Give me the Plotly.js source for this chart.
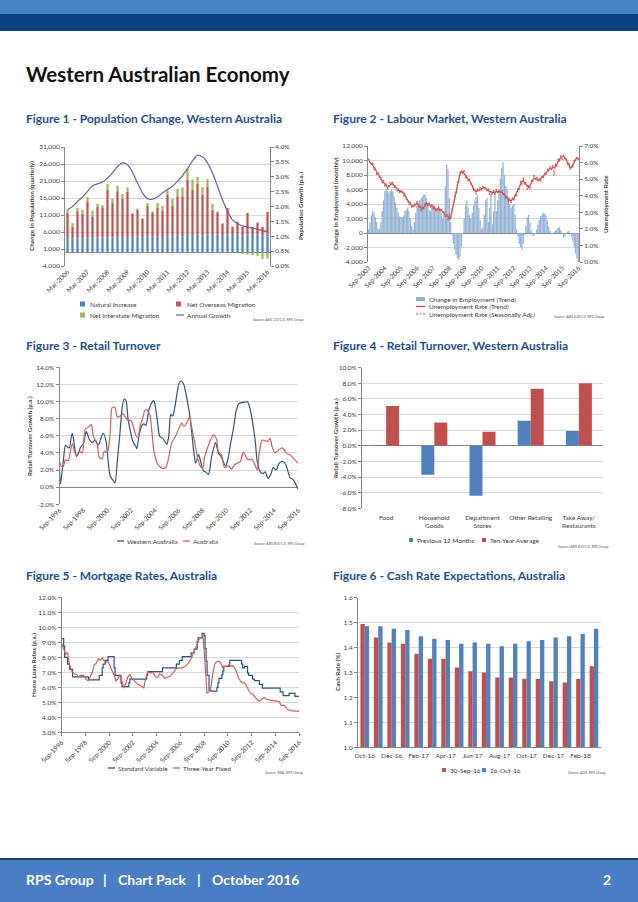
<!DOCTYPE html>
<html><head><meta charset="utf-8">
<script src="https://cdn.plot.ly/plotly-3.0.1.min.js"></script>
<style>html,body{margin:0;padding:0;background:#fff;}#chart{width:638px;height:902px;}</style>
</head><body><div id="chart"></div><script>
// ---------------- DATA ----------------
// Figure 1 - Population change, WA (quarterly)
const popQuarters = ['Mar-2006','Jun-2006','Sep-2006','Dec-2006','Mar-2007','Jun-2007','Sep-2007','Dec-2007',
 'Mar-2008','Jun-2008','Sep-2008','Dec-2008','Mar-2009','Jun-2009','Sep-2009','Dec-2009',
 'Mar-2010','Jun-2010','Sep-2010','Dec-2010','Mar-2011','Jun-2011','Sep-2011','Dec-2011',
 'Mar-2012','Jun-2012','Sep-2012','Dec-2012','Mar-2013','Jun-2013','Sep-2013','Dec-2013',
 'Mar-2014','Jun-2014','Sep-2014','Dec-2014','Mar-2015','Jun-2015','Sep-2015','Dec-2015','Mar-2016'];
const popTickLabels = ['Mar-2006','Mar-2007','Mar-2008','Mar-2009','Mar-2010','Mar-2011','Mar-2012','Mar-2013','Mar-2014','Mar-2015','Mar-2016'];
const naturalIncrease = [4200,4100,4300,4200,4400,4300,4400,4300,4500,4400,4600,4500,4600,4500,4700,4500,
 4700,4600,4700,4500,4900,4700,4900,4700,5100,4900,5200,5000,5300,5100,5300,5000,5300,5100,5300,5000,5300,5100,5200,4900,5200];
const netOverseas = [7400,3400,7800,7200,10400,6300,9100,8950,14000,10100,13400,11300,13250,6900,7850,5400,
 9000,7000,8550,7800,12000,9000,11600,11800,16300,13500,15000,12000,13900,7450,6500,3400,7750,2400,3700,2500,6300,2400,3600,2600,6700];
const netInterstate = [800,1100,950,1100,1500,1700,800,650,1700,1300,1600,1400,1250,200,350,200,
 800,500,1250,1400,1350,2100,2200,2600,3200,3000,2000,2200,2400,1750,300,200,50,100,-300,-500,-600,-800,-1000,-2000,-1800];
const annualGrowth = [1.89,2.0,2.17,2.32,2.51,2.70,2.76,2.82,2.96,3.13,3.34,3.47,3.40,3.15,2.79,2.46,
 2.26,2.25,2.32,2.46,2.57,2.68,2.85,3.04,3.27,3.53,3.72,3.67,3.47,3.13,2.68,2.23,1.84,1.55,1.42,1.35,1.31,1.27,1.24,1.19,1.16];
const popYTickVals = [-4000,1000,6000,11000,16000,21000,26000,31000];
const popYTickText = ['-4,000','1,000','6,000','11,000','16,000','21,000','26,000','31,000'];

// Figure 2 - Labour market, WA (monthly, Sep-2003 .. Sep-2016)
const empStart = {year: 2003, month: 9};
const empChange = [500,1500,2500,3000,
 2800,2200,1500,700,500,1500,3000,4500,5800,6000,5800,5600,
 5800,6000,5700,5000,4200,3500,2800,2300,2200,2200,2400,3000,
 3200,3500,3000,2000,1000,500,1500,2800,3800,4200,4500,4800,
 5000,5300,5300,4800,4000,3200,3000,3500,4000,3500,3000,3200,
 3800,3500,2800,2000,3000,6500,9500,8800,4800,1500,-300,-1500,
 -2300,-3000,-3500,-3700,-3300,-2000,-200,2000,3800,4500,3500,2500,
 2000,2800,3800,4500,5000,5200,3500,1800,500,800,2500,4500,
 4800,1500,3500,5400,1200,3000,5800,3000,4500,6000,7500,9000,
 9800,8000,6500,6000,5000,4000,3500,3800,4000,2500,500,-500,
 -1500,-2000,-2300,-1500,-300,1000,2200,2500,1500,300,-300,-400,
 -100,500,1200,1800,2300,2600,2800,2700,2400,1700,900,300,
 0,0,100,300,500,700,800,400,0,-700,-500,-100,
 200,300,0,-500,-1200,-2000,-2800,-3500,-4000];
const unempTrend = [6.1,6.05,5.95,5.85,
 5.7,5.55,5.4,5.3,5.2,5.05,4.9,4.8,4.7,4.6,4.5,4.55,
 4.65,4.75,4.7,4.6,4.5,4.4,4.35,4.3,4.25,4.2,4.15,4.0,
 3.85,3.7,3.6,3.5,3.4,3.35,3.4,3.5,3.55,3.45,3.35,3.25,
 3.2,3.3,3.45,3.55,3.5,3.45,3.4,3.35,3.3,3.25,3.2,3.15,
 3.2,3.15,3.1,3.05,2.95,2.85,2.85,2.75,2.65,2.7,3.1,3.5,
 3.9,4.3,4.6,5.0,5.3,5.45,5.45,5.35,5.2,5.1,5.0,4.9,
 4.8,4.6,4.4,4.3,4.25,4.3,4.35,4.4,4.4,4.45,4.5,4.45,
 4.4,4.3,4.25,4.2,4.2,4.2,4.2,4.25,4.25,4.25,4.25,4.2,
 4.15,4.05,3.95,3.85,3.75,3.7,3.7,3.75,3.85,4.0,4.2,4.35,
 4.5,4.7,4.85,4.9,4.8,4.7,4.55,4.5,4.6,4.8,4.95,5.05,
 5.05,5.0,4.95,4.95,5.0,5.1,5.2,5.3,5.4,5.5,5.6,5.65,
 5.65,5.7,5.7,5.75,5.9,6.1,6.2,6.3,6.35,6.4,6.3,6.15,
 6.0,5.85,5.7,5.7,5.85,6.05,6.2,6.25,6.25];
const unempSA = [6.2,6.0,5.9,5.95,
 5.6,5.6,5.3,5.35,5.1,5.1,4.8,4.9,4.6,4.7,4.4,4.6,
 4.8,4.7,4.8,4.5,4.6,4.3,4.4,4.2,4.3,4.25,4.0,4.1,
 3.8,3.7,3.5,3.6,3.3,3.4,3.5,3.45,3.65,3.35,3.3,3.1,
 3.3,3.2,3.5,3.6,3.4,3.55,3.3,3.45,3.2,3.35,3.1,3.2,
 3.3,3.1,3.15,3.0,3.0,2.75,2.8,2.55,2.9,2.6,3.2,3.5,
 4.0,4.2,4.8,4.9,5.4,5.5,5.35,5.5,5.1,5.15,4.9,5.0,
 4.7,4.6,4.35,4.35,4.1,4.4,4.3,4.5,4.35,4.55,4.45,4.5,
 4.3,4.4,4.1,4.25,4.1,4.3,4.1,4.35,4.2,4.3,4.2,4.3,
 4.1,4.1,3.85,3.9,3.65,3.8,3.6,3.85,3.75,4.05,4.0,4.4,
 4.4,4.85,4.7,5.05,4.7,4.8,4.4,4.6,4.45,4.9,4.85,5.2,
 5.0,5.1,4.9,5.0,4.9,5.15,5.1,5.35,5.3,5.6,5.5,5.75,
 5.6,5.8,5.25,5.9,5.8,6.2,6.1,6.4,6.2,6.45,6.25,6.2,
 5.9,5.95,5.6,5.75,5.8,6.1,6.15,6.3,6.2];
const empTickVals = ['2003-09-01','2004-09-01','2005-09-01','2006-09-01','2007-09-01','2008-09-01','2009-09-01',
 '2010-09-01','2011-09-01','2012-09-01','2013-09-01','2014-09-01','2015-09-01','2016-09-01'];
const empTickText = ['Sep-2003','Sep-2004','Sep-2005','Sep-2006','Sep-2007','Sep-2008','Sep-2009',
 'Sep-2010','Sep-2011','Sep-2012','Sep-2013','Sep-2014','Sep-2015','Sep-2016'];
const empYTickVals = [-4000,-2000,0,2000,4000,6000,8000,10000,12000];
const empYTickText = ['-4,000','-2,000','0','2,000','4,000','6,000','8,000','10,000','12,000'];

// Figure 3 - Retail turnover growth (% p.a.)
const waDates = ['1996-09','1996-10','1997-01','1997-03','1997-05','1997-07','1997-09','1997-10','1997-12','1998-02','1998-04','1998-06','1998-09','1998-12',
 '1999-03','1999-06','1999-09','1999-12','2000-03','2000-05','2000-08','2000-10','2000-12','2001-03','2001-05','2001-07','2001-10','2001-12',
 '2002-02','2002-04','2002-06','2002-09','2002-11','2003-02','2003-03','2003-05','2003-08','2003-10','2003-12','2004-03','2004-06','2004-08',
 '2004-11','2005-02','2005-05','2005-09','2005-11','2006-01','2006-03','2006-06','2006-09','2006-11','2007-02','2007-05','2007-08','2007-10',
 '2007-12','2008-02','2008-05','2008-07','2008-10','2008-12','2009-03','2009-06','2009-10','2010-01','2010-04','2010-08','2010-10','2011-01',
 '2011-04','2011-07','2011-10','2012-02','2012-06','2012-08','2012-11','2013-02','2013-04','2013-07','2013-10','2013-12','2014-03','2014-06',
 '2014-08','2014-11','2015-02','2015-05','2015-08','2015-11','2016-01','2016-04','2016-06','2016-09'];
const waRetail = [2.0,0.4,3.2,4.9,4.7,4.6,6.0,6.3,4.9,3.6,3.9,4.6,5.1,6.5,
 5.6,5.2,5.5,4.9,5.8,6.3,5.3,3.0,1.3,0.8,0.5,2.8,6.5,9.2,
 10.3,10.1,8.0,6.2,5.3,4.7,4.5,6.0,7.2,7.4,7.2,9.0,9.9,10.1,
 8.2,5.9,5.7,5.0,6.0,8.5,8.3,10.0,12.0,12.4,12.0,10.5,8.5,6.5,
 4.3,2.8,3.8,3.0,1.9,1.8,1.5,3.5,5.2,4.0,3.5,2.5,3.0,5.0,
 6.8,9.0,9.8,9.9,10.0,9.5,7.8,5.3,3.0,1.8,1.6,1.8,1.0,1.6,
 2.3,2.0,2.8,3.0,2.8,1.8,1.1,0.9,0.5,-0.2];
const ausDates = ['1996-09','1996-11','1997-01','1997-03','1997-06','1997-08','1997-10','1997-12','1998-02','1998-05','1998-08','1998-11',
 '1999-02','1999-05','1999-07','1999-11','2000-01','2000-04','2000-06','2000-09','2000-12','2001-02','2001-05','2001-07','2001-10',
 '2002-01','2002-03','2002-06','2002-09','2002-11','2003-02','2003-04','2003-06','2003-09','2003-11','2004-01','2004-04','2004-06',
 '2004-08','2004-11','2005-01','2005-05','2005-08','2005-11','2006-02','2006-06','2006-09','2006-12','2007-02','2007-05','2007-08',
 '2007-10','2008-01','2008-04','2008-07','2008-09','2008-11','2009-02','2009-05','2009-08','2009-11','2010-01','2010-04','2010-07',
 '2010-11','2011-02','2011-05','2011-08','2011-11','2012-02','2012-05','2012-07','2012-10','2013-01','2013-04','2013-06','2013-09',
 '2013-12','2014-03','2014-05','2014-07','2014-10','2015-01','2015-05','2015-07','2015-10','2016-01','2016-05','2016-09'];
const ausRetail = [3.0,2.4,2.5,3.2,3.1,4.2,5.1,4.2,3.7,4.2,4.0,6.8,
 7.0,7.3,6.0,5.0,3.5,3.3,4.2,4.0,6.2,9.3,9.3,8.2,8.3,
 8.6,8.2,7.8,7.8,7.2,6.0,5.8,7.0,8.2,9.0,9.0,8.4,6.5,
 4.2,2.9,2.5,2.2,2.3,3.5,5.2,6.0,6.8,7.5,7.1,7.5,8.2,
 7.0,5.3,3.4,2.4,2.2,3.5,4.6,5.5,6.1,5.6,4.1,3.8,2.3,
 2.5,2.1,2.6,2.8,3.0,4.1,3.5,3.2,3.3,2.8,2.0,4.0,5.5,
 5.4,5.4,5.7,4.7,4.0,4.3,4.6,4.4,3.9,3.8,3.3,2.8];
const bienTickVals = ['1996-09-01','1998-09-01','2000-09-01','2002-09-01','2004-09-01','2006-09-01','2008-09-01','2010-09-01','2012-09-01','2014-09-01','2016-09-01'];
const bienTickText = ['Sep-1996','Sep-1998','Sep-2000','Sep-2002','Sep-2004','Sep-2006','Sep-2008','Sep-2010','Sep-2012','Sep-2014','Sep-2016'];
const retailYTickVals = [-2,0,2,4,6,8,10,12,14];
const retailYTickText = ['-2.0%','0.0%','2.0%','4.0%','6.0%','8.0%','10.0%','12.0%','14.0%'];

// Figure 4 - Retail turnover by category, WA
const retailCats = ['Food','Household<br>Goods','Department<br>Stores','Other Retailing','Take Away/<br>Restaurants'];
const prev12Months = [0.1,-3.7,-6.4,3.2,1.9];
const tenYearAvg = [5.1,3.0,1.8,7.3,8.0];
const catYTickVals = [-8,-6,-4,-2,0,2,4,6,8,10];
const catYTickText = ['-8.0%','-6.0%','-4.0%','-2.0%','0.0%','2.0%','4.0%','6.0%','8.0%','10.0%'];

// Figure 5 - Mortgage rates, Australia
const svDates = ['1996-09','1996-11','1996-12','1997-03','1997-05','1997-08','1998-12','1999-11','2000-02','2000-03','2000-05','2000-08',
 '2001-02','2001-03','2001-09','2001-10','2002-05','2002-06','2003-11','2003-12','2005-03','2006-05','2006-08','2006-11','2007-08',
 '2007-11','2008-02','2008-03','2008-07','2008-09','2008-10','2008-11','2008-12','2009-02','2009-04','2009-10','2009-11','2009-12',
 '2010-03','2010-04','2010-05','2010-11','2011-11','2011-12','2012-02','2012-05','2012-06','2012-10','2012-12','2013-05','2013-08',
 '2015-02','2015-05','2015-11','2016-05','2016-09'];
const standardVariable = [9.25,8.75,8.0,7.55,7.2,6.7,6.5,6.8,7.3,7.55,7.8,8.05,
 7.3,6.8,6.3,6.05,6.3,6.55,6.8,7.05,7.3,7.55,7.8,8.05,8.3,
 8.55,9.05,9.3,9.6,9.45,8.6,7.75,6.8,5.8,5.75,6.0,6.3,6.6,
 6.85,7.1,7.4,7.8,7.55,7.3,7.4,6.95,6.8,6.55,6.45,6.2,5.95,
 5.7,5.45,5.6,5.4,5.4];
const fxDates = ['1996-09','1996-11','1997-01','1997-03','1997-05','1997-07','1997-10','1997-12','1998-02','1998-04','1998-07','1998-10',
 '1998-12','1999-02','1999-04','1999-06','1999-08','1999-10','1999-12','2000-02','2000-05','2000-08','2000-11','2001-02','2001-04',
 '2001-06','2001-08','2001-10','2001-12','2002-02','2002-04','2002-06','2002-08','2002-11','2003-02','2003-05','2003-08','2003-10',
 '2003-12','2004-03','2004-05','2004-08','2004-10','2004-12','2005-02','2005-05','2005-08','2005-11','2006-02','2006-05','2006-08',
 '2006-11','2007-02','2007-05','2007-08','2007-11','2008-02','2008-04','2008-06','2008-08','2008-09','2008-10','2008-11','2008-12',
 '2009-02','2009-04','2009-06','2009-08','2009-10','2009-12','2010-02','2010-04','2010-06','2010-08','2010-10','2010-12','2011-02',
 '2011-04','2011-06','2011-08','2011-10','2011-12','2012-02','2012-04','2012-06','2012-08','2012-10','2012-12','2013-02','2013-04',
 '2013-06','2013-08','2013-10','2013-12','2014-04','2014-07','2014-10','2015-01','2015-03','2015-06','2015-08','2015-10','2016-01',
 '2016-05','2016-09'];
const threeYearFixed = [8.9,8.5,8.2,8.3,7.5,7.1,6.9,6.85,6.7,6.8,6.8,6.5,
 6.45,6.7,7.0,7.5,7.6,7.9,7.8,7.95,7.7,7.7,7.3,6.8,6.4,
 6.6,6.8,6.4,5.95,6.3,6.7,6.85,6.6,6.4,6.2,6.1,5.95,6.6,
 7.05,6.95,7.0,6.7,6.65,6.9,6.85,6.6,6.65,6.75,7.0,7.25,7.3,
 7.3,7.4,7.6,7.9,8.4,8.9,9.2,9.3,9.4,8.5,7.3,6.3,5.6,
 5.7,6.0,7.0,7.6,7.7,7.75,7.6,7.3,7.4,7.4,7.5,7.4,7.45,
 7.3,7.0,6.6,6.4,6.3,6.3,6.1,5.8,5.6,5.55,5.4,5.25,5.1,
 5.1,5.25,5.3,5.2,5.15,5.1,5.05,5.05,4.8,4.8,4.65,4.5,4.45,
 4.45,4.4];
const mortYTickVals = [3,4,5,6,7,8,9,10,11,12];
const mortYTickText = ['3.0%','4.0%','5.0%','6.0%','7.0%','8.0%','9.0%','10.0%','11.0%','12.0%'];

// Figure 6 - Cash rate expectations
const cashMonths = ['Oct-16','Nov-16','Dec-16','Jan-17','Feb-17','Mar-17','Apr-17','May-17','Jun-17','Jul-17','Aug-17','Sep-17',
 'Oct-17','Nov-17','Dec-17','Jan-18','Feb-18','Mar-18'];
const cashTickLabels = ['Oct-16','Dec-16','Feb-17','Apr-17','Jun-17','Aug-17','Oct-17','Dec-17','Feb-18'];
const cash30Sep16 = [1.495,1.44,1.42,1.415,1.375,1.355,1.355,1.32,1.305,1.30,1.28,1.28,1.275,1.275,1.265,1.26,1.275,1.325];
const cash26Oct16 = [1.485,1.485,1.475,1.47,1.445,1.435,1.43,1.415,1.42,1.415,1.405,1.415,1.425,1.43,1.44,1.445,1.455,1.475];

// ---------------- HELPERS ----------------
const W = 638, H = 902;
const fx = v => v / W;
const fy = v => 1 - v / H;
const FONT = 'Lato, "Open Sans", sans-serif';
const TS = 6.5;
const TICK = {family: FONT, size: TS, color: '#404040'};
const AXC = '#868686', GRID = '#d9d9d9';
const BLUE = '#4f81bd', RED = '#c0504d', GREEN = '#9bbb59', PURPLE = '#7464a8';
const LIGHTBLUE = '#95b3d7', NAVY = '#2b5283', ROSE = '#d0605e';
const TITLEBLUE = '#1f4e8d';

function yAx(extra) {
  return Object.assign({automargin:false, showline:true, linecolor:AXC, linewidth:1, ticks:'outside', ticklen:3,
    tickcolor:AXC, tickwidth:1, gridcolor:GRID, gridwidth:1, zeroline:false, tickfont:TICK, fixedrange:true}, extra);
}
function xAx(extra) {
  return Object.assign({automargin:false, showline:false, ticks:'', showgrid:false, zeroline:false, tickfont:TICK, fixedrange:true}, extra);
}
const shapes = [], annotations = [];
function rectPx(x0, y0, x1, y1, color) {
  shapes.push({type:'rect', xref:'paper', yref:'paper', x0:fx(x0), x1:fx(x1), y0:fy(y1), y1:fy(y0), fillcolor:color, line:{width:0}});
}
function linePx(x0, x1, y, color, dash, w) {
  shapes.push({type:'line', xref:'paper', yref:'paper', x0:fx(x0), x1:fx(x1), y0:fy(y), y1:fy(y), line:{color:color, width:w||1.3, dash:dash||'solid'}});
}
function text(x, y, t, opts) {
  opts = opts || {};
  annotations.push({xref:'paper', yref:'paper', x:fx(x), y:fy(y), text:t, showarrow:false,
    xanchor:opts.xanchor||'left', yanchor:'middle', textangle:opts.angle||0,
    font:{family:FONT, size:opts.size||TS, color:opts.color||'#404040'}});
}

// ---------------- TRACES ----------------
const traces = [];
// Fig 1 stacked bars (bases derived from data)
const baseOverseas = naturalIncrease.slice();
const baseInterstate = netInterstate.map((v, i) => v >= 0 ? naturalIncrease[i] + netOverseas[i] : 0);
const bw1 = 0.45;
traces.push({type:'bar', x:popQuarters, y:naturalIncrease, base:0, width:bw1, offset:-bw1/2, marker:{color:BLUE}, xaxis:'x', yaxis:'y', name:'Natural Increase'});
traces.push({type:'bar', x:popQuarters, y:netOverseas, base:baseOverseas, width:bw1, offset:-bw1/2, marker:{color:RED}, xaxis:'x', yaxis:'y', name:'Net Overseas Migration'});
traces.push({type:'bar', x:popQuarters, y:netInterstate, base:baseInterstate, width:bw1, offset:-bw1/2, marker:{color:GREEN}, xaxis:'x', yaxis:'y', name:'Net Interstate Migration'});
traces.push({type:'scatter', mode:'lines', x:popQuarters, y:annualGrowth, line:{color:PURPLE, width:1.3, shape:'spline', smoothing:0.8}, xaxis:'x', yaxis:'y2', name:'Annual Growth'});

// Fig 2
const empDates = empChange.map((_, k) => {
  const m = empStart.month - 1 + k;
  const y = empStart.year + Math.floor(m / 12);
  return y + '-' + String(m % 12 + 1).padStart(2, '0') + '-01';
});
const monthMs = 29 * 86400000;
traces.push({type:'bar', x:empDates, y:empChange, width:monthMs, offset:-monthMs/2, marker:{color:LIGHTBLUE, line:{width:0}}, xaxis:'x2', yaxis:'y3', name:'Change in Employment (Trend)'});
traces.push({type:'scatter', mode:'lines', x:empDates, y:unempTrend, line:{color:RED, width:1.2}, xaxis:'x2', yaxis:'y4', name:'Unemployment Rate (Trend)'});
traces.push({type:'scatter', mode:'lines+markers', x:empDates, y:unempSA, line:{color:'#d9534f', width:0.8, dash:'2px,1.5px'}, marker:{size:1.6, color:'#d9534f'}, xaxis:'x2', yaxis:'y4', name:'Unemployment Rate (Seasonally Adj.)'});

// Fig 3
traces.push({type:'scatter', mode:'lines', x:waDates, y:waRetail, line:{color:NAVY, width:1.2, shape:'spline', smoothing:0.7}, xaxis:'x3', yaxis:'y5', name:'Western Australia'});
traces.push({type:'scatter', mode:'lines', x:ausDates, y:ausRetail, line:{color:ROSE, width:1.2, shape:'spline', smoothing:0.7}, xaxis:'x3', yaxis:'y5', name:'Australia'});

// Fig 4
traces.push({type:'bar', x:retailCats, y:prev12Months, width:0.27, offset:-0.27, marker:{color:BLUE}, xaxis:'x4', yaxis:'y6', name:'Previous 12 Months'});
traces.push({type:'bar', x:retailCats, y:tenYearAvg, width:0.27, offset:0, marker:{color:RED}, xaxis:'x4', yaxis:'y6', name:'Ten-Year Average'});

// Fig 5
traces.push({type:'scatter', mode:'lines', x:svDates, y:standardVariable, line:{color:NAVY, width:1.2, shape:'hv'}, xaxis:'x5', yaxis:'y7', name:'Standard Variable'});
traces.push({type:'scatter', mode:'lines', x:fxDates, y:threeYearFixed, line:{color:ROSE, width:1.2}, xaxis:'x5', yaxis:'y7', name:'Three-Year Fixed'});

// Fig 6
traces.push({type:'bar', x:cashMonths, y:cash30Sep16, base:0, width:0.32, offset:-0.32, marker:{color:RED}, xaxis:'x6', yaxis:'y8', name:'30-Sep-16'});
traces.push({type:'bar', x:cashMonths, y:cash26Oct16, base:0, width:0.32, offset:0, marker:{color:BLUE}, xaxis:'x6', yaxis:'y8', name:'26-Oct-16'});

// ---------------- PAGE DECORATION ----------------
rectPx(0, 0, 638, 14, '#4a80c4');
rectPx(0, 14, 638, 31, '#0c3f7d');
rectPx(0, 858, 638, 860, '#1b3f74');
rectPx(0, 860, 638, 902, '#4a7ec4');
text(24, 74, '<b>Western Australian Economy</b>', {size:20.5, color:'#111111'});
text(24, 118, '<b>Figure 1 - Population Change, Western Australia</b>', {size:12, color:TITLEBLUE});
text(331, 118, '<b>Figure 2 - Labour Market, Western Australia</b>', {size:12, color:TITLEBLUE});
text(24, 346, '<b>Figure 3 - Retail Turnover</b>', {size:12, color:TITLEBLUE});
text(331, 346, '<b>Figure 4 - Retail Turnover, Western Australia</b>', {size:12, color:TITLEBLUE});
text(24, 575, '<b>Figure 5 - Mortgage Rates, Australia</b>', {size:12, color:TITLEBLUE});
text(331, 575, '<b>Figure 6 - Cash Rate Expectations, Australia</b>', {size:12, color:TITLEBLUE});
const foot = {size:14, color:'#ffffff'};
text(24, 879, '<b>RPS Group</b>', foot);
text(101, 879, '<b>|</b>', foot);
text(116, 879, '<b>Chart Pack</b>', foot);
text(195, 879, '<b>|</b>', foot);
text(210, 879, '<b>October 2016</b>', foot);
text(613, 879, '<b>2</b>', Object.assign({xanchor:'right'}, foot));

// axis titles
const AT = 6.3;
text(31, 206, '<b>Change in Population (quarterly)</b>', {xanchor:'center', angle:-90, size:AT});
text(300, 206, '<b>Population Growth (p.a.)</b>', {xanchor:'center', angle:-90, size:AT});
text(335, 204, '<b>Change in Employment (monthly)</b>', {xanchor:'center', angle:-90, size:AT});
text(605, 204, '<b>Unemployment Rate</b>', {xanchor:'center', angle:-90, size:AT});
text(29, 436, '<b>Retail Turnover Growth (p.a.)</b>', {xanchor:'center', angle:-90, size:AT});
text(335, 438, '<b>Retail Turnover Growth (p.a.)</b>', {xanchor:'center', angle:-90, size:AT});
text(33, 665, '<b>Home Loan Rates (p.a.)</b>', {xanchor:'center', angle:-90, size:AT});
text(337, 672, '<b>Cash Rate (%)</b>', {xanchor:'center', angle:-90, size:AT});

// legends
const sq = (x, y, c, w, h) => rectPx(x, y - (h||5)/2, x + (w||5), y + (h||5)/2, c);
sq(80, 304, BLUE); text(88, 304, 'Natural Increase');
sq(176, 304, RED); text(185, 304, 'Net Overseas Migration');
sq(80, 315, GREEN); text(88, 315, 'Net Interstate Migration');
linePx(176, 184, 315, PURPLE); text(185, 315, 'Annual Growth');
sq(416, 299, LIGHTBLUE, 9, 4); text(427, 299, 'Change in Employment (Trend)');
linePx(416, 425, 306.5, RED); text(427, 306.5, 'Unemployment Rate (Trend)');
linePx(416, 425, 314, RED, '2px,1.5px', 1); text(427, 314, 'Unemployment Rate (Seasonally Adj.)');
linePx(117, 124, 541, NAVY); text(125, 541, 'Western Australia');
linePx(183, 190, 541, ROSE); text(191, 541, 'Australia');
sq(409, 540, BLUE, 4, 4); text(415, 540, 'Previous 12 Months');
sq(482, 540, RED, 4, 4); text(488, 540, 'Ten-Year Average');
linePx(108, 115, 768, NAVY); text(116, 768, 'Standard Variable');
linePx(173, 180, 768, ROSE); text(181, 768, 'Three-Year Fixed');
sq(442, 770, RED, 4, 4); text(448, 770, '30-Sep-16');
sq(482, 770, BLUE, 4, 4); text(488, 770, '26-Oct-16');

// sources
const src = (x, y, t) => text(x, y, '<i>' + t + '</i>', {xanchor:'right', size:3.8, color:'#595959'});
src(305, 319, 'Source: ABS 3101.0, RPS Group');
src(606, 316, 'Source: ABS 6202.0, RPS Group');
src(306, 543, 'Source: ABS 8501.0, RPS Group');
src(610, 546, 'Source: ABS 8501.0, RPS Group');
src(305, 772, 'Source: RBA, RPS Group');
src(608, 772, 'Source: ASX, RPS Group');

// ---------------- LAYOUT ----------------
const fig3Top = 367.3, fig3Bottom = 504.3, fig3Min = -2, fig3Max = 14;
const fig3ZeroPaper = fy(fig3Bottom - (0 - fig3Min) / (fig3Max - fig3Min) * (fig3Bottom - fig3Top));
const layout = {
  width: W, height: H, margin: {l:0, r:0, t:0, b:0, pad:0},
  paper_bgcolor:'#ffffff', plot_bgcolor:'rgba(0,0,0,0)', showlegend:false, barmode:'overlay',
  font:{family:FONT, size:TS, color:'#404040'},
  // Fig 1
  xaxis: xAx({domain:[fx(65), fx(270)], anchor:'y', type:'category', range:[-0.5, popQuarters.length - 0.5],
    tickmode:'array', tickvals:popTickLabels, ticktext:popTickLabels, tickangle:-45}),
  yaxis: yAx({domain:[fy(266), fy(147)], anchor:'x', range:[-4000, 31000], tickmode:'array', tickvals:popYTickVals, ticktext:popYTickText,
    zeroline:true, zerolinecolor:AXC, zerolinewidth:1}),
  yaxis2: yAx({anchor:'x', overlaying:'y', side:'right', range:[0, 4], dtick:0.5, tick0:0, tickformat:'.1f', ticksuffix:'%', showgrid:false}),
  // Fig 2
  xaxis2: xAx({domain:[fx(368), fx(579)], anchor:'y3', type:'date', range:['2003-08-16', '2016-09-16'],
    tickmode:'array', tickvals:empTickVals, ticktext:empTickText, tickangle:-45}),
  yaxis3: yAx({domain:[fy(262), fy(146)], anchor:'x2', range:[-4000, 12000], tickmode:'array', tickvals:empYTickVals, ticktext:empYTickText,
    zeroline:true, zerolinecolor:AXC, zerolinewidth:1}),
  yaxis4: yAx({anchor:'x2', overlaying:'y3', side:'right', range:[0, 7], dtick:1, tick0:0, tickformat:'.1f', ticksuffix:'%', showgrid:false}),
  // Fig 3
  xaxis3: xAx({domain:[fx(59.5), fx(298)], anchor:'y5', type:'date', range:['1996-09-01', '2016-09-01'],
    tickmode:'array', tickvals:bienTickVals, ticktext:bienTickText, tickangle:-45}),
  xaxis7: xAx({overlaying:'x3', anchor:'free', position:fig3ZeroPaper, type:'date', range:['1996-09-01', '2016-09-01'],
    tick0:'1996-09-01', dtick:'M6', ticks:'outside', ticklen:2.5, tickcolor:AXC, tickwidth:0.8, showticklabels:false}),
  yaxis5: yAx({domain:[fy(fig3Bottom), fy(fig3Top)], anchor:'x3', range:[fig3Min, fig3Max], tickmode:'array', tickvals:retailYTickVals, ticktext:retailYTickText,
    zeroline:true, zerolinecolor:AXC, zerolinewidth:1}),
  // Fig 4
  xaxis4: xAx({domain:[fx(362), fx(603)], anchor:'y6', type:'category', range:[-0.5, 4.5], ticklabelstandoff:4}),
  yaxis6: yAx({domain:[fy(508.3), fy(367.7)], anchor:'x4', range:[-8, 10], tickmode:'array', tickvals:catYTickVals, ticktext:catYTickText,
    zeroline:true, zerolinecolor:AXC, zerolinewidth:1}),
  // Fig 5
  xaxis5: xAx({domain:[fx(61.7), fx(299)], anchor:'y7', type:'date', range:['1996-09-01', '2016-09-01'],
    tickmode:'array', tickvals:bienTickVals, ticktext:bienTickText, tickangle:-45, showline:true, linecolor:AXC, ticks:'outside', ticklen:3, tickcolor:AXC}),
  yaxis7: yAx({domain:[fy(732.3), fy(597.3)], anchor:'x5', range:[3, 12], tickmode:'array', tickvals:mortYTickVals, ticktext:mortYTickText}),
  // Fig 6
  xaxis6: xAx({domain:[fx(358), fx(600.7)], anchor:'y8', type:'category', range:[-0.5, cashMonths.length - 0.5],
    tickmode:'array', tickvals:cashTickLabels, ticktext:cashTickLabels, showline:true, linecolor:AXC, ticklabelstandoff:2}),
  yaxis8: yAx({domain:[fy(747.3), fy(597.7)], anchor:'x6', range:[1.0, 1.6], dtick:0.1, tick0:1.0, tickformat:'.1f'}),
  shapes: shapes,
  annotations: annotations
};

Plotly.newPlot('chart', traces, layout, {staticPlot:true, displayModeBar:false});
</script></body></html>
